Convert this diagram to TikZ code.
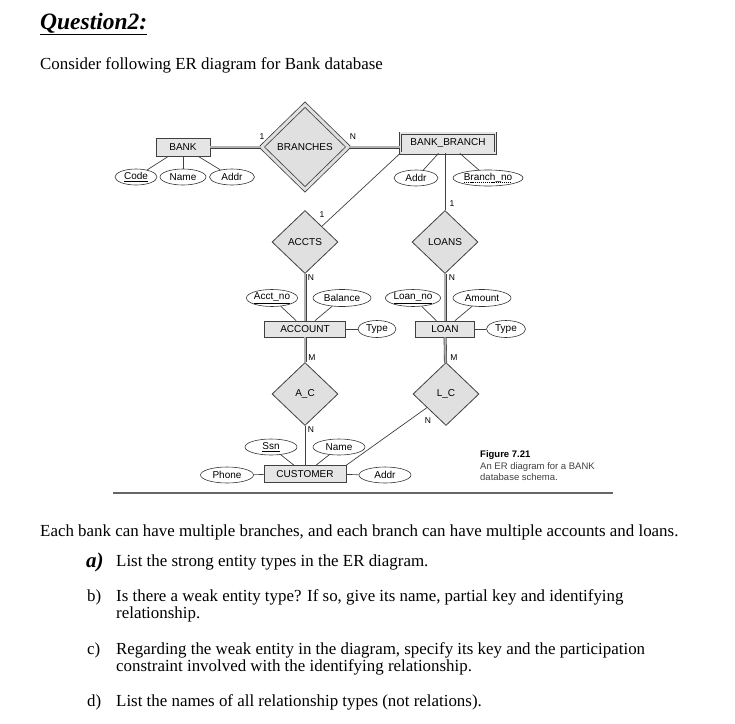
\documentclass[tikz,border=0pt]{standalone}
\usepackage{fontspec}
\setmainfont{Liberation Serif}
\setsansfont{Liberation Sans}
\usetikzlibrary{shapes.geometric}

\begin{document}
\begin{tikzpicture}[x=1pt, y=-1pt,
  entity/.style={rectangle, draw=black!75, fill=black!10, line width=0.7pt, inner sep=0pt, minimum height=16pt, font=\sffamily\fontsize{10}{11}\selectfont},
  weakentity/.style={entity, double=black!10, double distance=1.6pt},
  relation/.style={diamond, draw=black!75, fill=black!12, line width=0.8pt, inner sep=0pt, minimum width=66pt, minimum height=63pt, font=\sffamily\fontsize{10}{11}\selectfont},
  idrelation/.style={relation, double=black!12, double distance=3pt},
  attr/.style={ellipse, draw=black!80, fill=white, line width=0.6pt, inner sep=0pt, minimum height=17pt, minimum width=#1, font=\sffamily\fontsize{10}{11}\selectfont},
  attr/.default=46pt,
  link/.style={draw=black!75, line width=0.7pt},
  total/.style={draw=black!75, line width=0.6pt, double=black!30, double distance=1.8pt},
  card/.style={inner sep=0pt, font=\sffamily\fontsize{8.5}{9}\selectfont},
  body/.style={anchor=base west, inner sep=0pt, font=\fontsize{16.9}{18}\selectfont},
  itemlabel/.style={anchor=base west, inner sep=0pt, font=\fontsize{16.9}{18}\selectfont},
  caption/.style={anchor=base west, inner sep=0pt, text=black!75, font=\sffamily\fontsize{9.5}{11}\selectfont}]
  \useasboundingbox (0,0) rectangle (735,723);

  % Heading
  \node (title) [anchor=base west, inner sep=0pt, font=\fontsize{23.5}{26}\selectfont] at (40,29) {\textbf{\textit{\underline{Question2:}}}};
  \node (intro) [body] at (40,69) {Consider following ER diagram for Bank database};

  % Entities
  \node (bank) [entity, minimum width=54pt, minimum height=18pt] at (183,147) {BANK};
  \node (bankbranch) [weakentity, minimum width=95pt, minimum height=20pt] at (448,143) {BANK\_BRANCH};
  \node (account) [entity, minimum width=81pt] at (305,329) {ACCOUNT};
  \node (loan) [entity, minimum width=59pt] at (445,329) {LOAN};
  \node (customer) [entity, minimum width=82pt, minimum height=17pt] at (305,474) {CUSTOMER};

  % Relationships
  \node (branches) [idrelation, minimum width=87pt, minimum height=85pt] at (305,147) {BRANCHES};
  \node (accts) [relation] at (305,242) {ACCTS};
  \node (loans) [relation] at (445,242) {LOANS};
  \node (ac) [relation] at (305,394) {A\_C};
  \node (lc) [relation] at (446,394) {L\_C};

  % Attributes
  \node (code) [attr=42pt, minimum height=16pt] at (136,177) {\underline{Code}};
  \node (bankname) [attr=46pt, minimum height=16pt] at (183,177) {Name};
  \node (bankaddr) [attr=45pt, minimum height=16pt] at (232,177) {Addr};
  \node (branchaddr) [attr=44pt, minimum height=16pt] at (416,178) {Addr};
  \node (branchno) [attr=70pt, minimum height=16pt] at (488,178) {Branch\_no};
  \node (acctno) [attr=50pt] at (272,298) {\underline{Acct\_no}};
  \node (balance) [attr=58pt] at (342,298) {Balance};
  \node (accttype) [attr=38pt] at (377,329) {Type};
  \node (loanno) [attr=50pt] at (413,298) {\underline{Loan\_no}};
  \node (amount) [attr=58pt] at (482,298) {Amount};
  \node (loantype) [attr=39pt] at (506,329) {Type};
  \node (ssn) [attr=52pt, minimum height=16pt] at (271,447) {\underline{Ssn}};
  \node (custname) [attr=52pt, minimum height=16pt] at (339,447) {Name};
  \node (phone) [attr=53pt, minimum height=16pt] at (227,475) {Phone};
  \node (custaddr) [attr=52pt, minimum height=16pt] at (385,475) {Addr};

  % Partial key
  \draw [dash pattern=on 1.2pt off 0.9pt, line width=0.5pt] ([xshift=-24pt, yshift=-1.8pt] branchno.base) -- ([xshift=24pt, yshift=-1.8pt] branchno.base);

  % Total participation
  \draw [total] (bank.east) -- (branches.west);
  \draw [total] (branches.east) -- (branches.east -| bankbranch.west);
  \draw [total] (accts) -- (account);
  \draw [total] (loans) -- (loan);
  \draw [total] (account) -- (ac);
  \draw [total] (loan) -- (lc);

  % Partial participation
  \draw [link] (bankbranch.south west) -- (accts);
  \draw [link] (bankbranch.south -| loans) -- (loans);
  \draw [link] (ac) -- (customer);
  \draw [link] (customer.north east) -- (lc);

  % Attribute links
  \draw [link] (bank) -- (code);
  \draw [link] (bank) -- (bankname);
  \draw [link] (bank) -- (bankaddr);
  \draw [link] (bankbranch) -- (branchaddr);
  \draw [link] (bankbranch) -- (branchno);
  \draw [link] (account) -- (acctno);
  \draw [link] (account) -- (balance);
  \draw [link] (account) -- (accttype);
  \draw [link] (loan) -- (loanno);
  \draw [link] (loan) -- (amount);
  \draw [link] (loan) -- (loantype);
  \draw [link] (customer) -- (ssn);
  \draw [link] (customer) -- (custname);
  \draw [link] (customer) -- (phone);
  \draw [link] (customer) -- (custaddr);

  % Cardinalities
  \node (c1) [card] at (262,137) {1};
  \node (c2) [card] at (353,137) {N};
  \node (c3) [card] at (322,215) {1};
  \node (c4) [card] at (452,204) {1};
  \node (c5) [card] at (311,278) {N};
  \node (c6) [card] at (452,278) {N};
  \node (c7) [card] at (312,358) {M};
  \node (c8) [card] at (454,358) {M};
  \node (c9) [card] at (311,430) {N};
  \node (c10) [card] at (428,421) {N};

  % Caption and rule
  \node (figno) [caption, text=black] at (480,457) {\textbf{Figure 7.21}};
  \node (cap1) [caption] at (480,469) {An ER diagram for a BANK};
  \node (cap2) [caption] at (480,480) {database schema.};
  \coordinate (ruleleft) at (113,493);
  \coordinate (ruleright) at (613,493);
  \draw [black!60, line width=2pt] (ruleleft) -- (ruleright);

  % Questions
  \node (text) [body] at (40,536) {Each bank can have multiple branches, and each branch can have multiple accounts and loans.};
  \node (qa) [itemlabel, font=\fontsize{21}{22}\selectfont] at (86,567) {\textbf{\textit{a)}}};
  \node (qatext) [body] at (116,566) {List the strong entity types in the ER diagram.};
  \node (qb) [itemlabel] at (87,601) {b)};
  \node (qbtext) [body] at (116,601) {Is there a weak entity type? If so, give its name, partial key and identifying};
  \node (qbmore) [body] at (116,618) {relationship.};
  \node (qc) [itemlabel] at (87,654) {c)};
  \node (qctext) [body] at (116,654) {Regarding the weak entity in the diagram, specify its key and the participation};
  \node (qcmore) [body] at (116,671) {constraint involved with the identifying relationship.};
  \node (qd) [itemlabel] at (87,706) {d)};
  \node (qdtext) [body] at (116,706) {List the names of all relationship types (not relations).};
\end{tikzpicture}
\end{document}
